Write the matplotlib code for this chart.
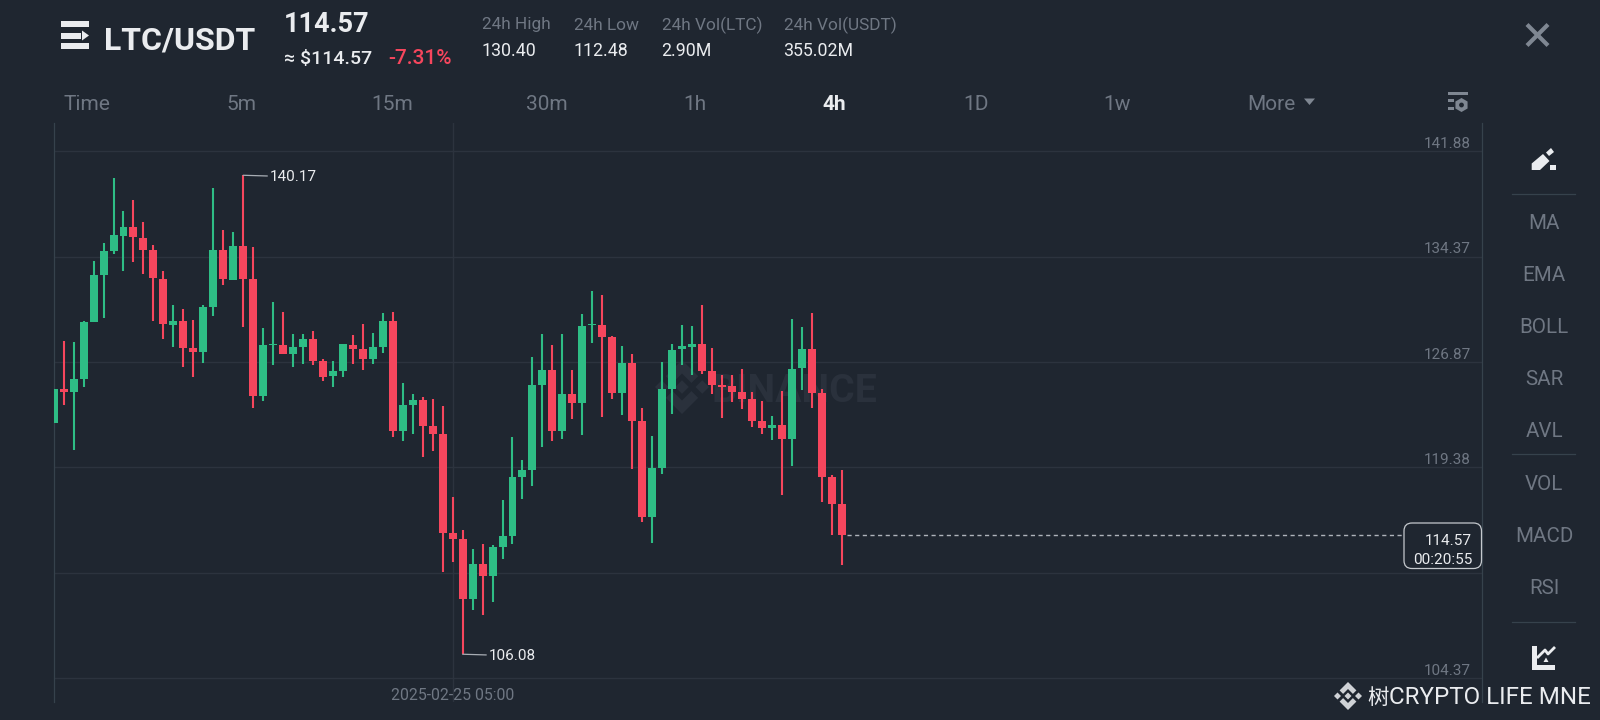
import matplotlib
matplotlib.use("Agg")
import matplotlib.pyplot as plt
from matplotlib.patches import FancyBboxPatch, Polygon, Rectangle, Circle, RegularPolygon
import numpy as np

plt.rcParams['font.family'] = ['Roboto', 'Noto Sans CJK SC', 'DejaVu Sans']

# candles
opens = [122.54, 124.96, 124.77, 125.65, 129.70, 133.07, 134.76, 135.87, 136.49, 135.73,
         134.83, 132.81, 129.51, 129.82, 127.85, 127.62, 130.77, 134.83, 132.74, 135.11,
         132.79, 124.46, 128.07, 128.09, 127.45, 127.95, 128.49, 126.95, 125.86, 126.22,
         128.12, 127.81, 127.09, 127.92, 129.80, 121.97, 123.85, 124.18, 122.35, 121.76,
         114.71, 114.26, 109.99, 112.51, 111.68, 113.72, 114.48, 118.70, 119.17, 125.25,
         126.31, 121.95, 124.63, 123.99, 129.49, 129.49, 128.66, 124.65, 126.81, 122.68,
         115.85, 119.36, 124.96, 127.79, 127.97, 128.16, 126.22, 125.22, 125.15, 124.72,
         124.25, 122.71, 122.21, 122.42, 121.40, 126.46, 127.83, 124.68, 118.67, 116.78]
highs = [124.96, 128.40, 128.30, 129.80, 134.07, 135.37, 139.95, 137.65, 138.41, 136.82,
         135.18, 133.36, 130.91, 130.68, 129.85, 130.91, 139.29, 136.25, 136.16, 140.17,
         135.04, 129.32, 131.13, 130.46, 128.87, 128.87, 129.11, 127.07, 126.93, 128.14,
         128.80, 129.59, 128.94, 130.39, 130.42, 125.37, 124.61, 124.37, 124.25, 123.75,
         117.25, 114.93, 113.55, 113.93, 113.86, 117.04, 121.55, 119.88, 127.26, 128.88,
         128.09, 128.85, 126.31, 130.30, 131.94, 131.68, 128.73, 128.05, 127.43, 123.61,
         121.64, 126.86, 128.16, 129.54, 129.42, 130.94, 127.86, 125.93, 125.96, 126.36,
         124.77, 124.08, 123.02, 124.82, 129.94, 129.35, 130.37, 124.96, 118.82, 119.20]
lows = [122.54, 123.80, 120.64, 125.13, 129.70, 130.04, 134.59, 133.38, 134.00, 133.17,
        129.80, 128.54, 127.92, 126.55, 125.81, 126.79, 130.18, 132.34, 132.74, 129.40,
        123.61, 124.13, 126.69, 127.45, 126.50, 126.76, 126.67, 125.55, 125.13, 125.84,
        126.71, 126.29, 126.74, 127.55, 121.52, 121.26, 121.78, 120.12, 120.55, 111.94,
        112.62, 106.08, 109.23, 108.88, 109.83, 112.89, 113.91, 117.13, 118.06, 120.86,
        121.28, 121.43, 122.83, 121.69, 128.21, 122.97, 124.23, 123.11, 119.27, 115.52,
        114.00, 118.94, 123.21, 126.69, 125.96, 126.05, 124.63, 122.90, 124.06, 123.54,
        122.26, 121.74, 121.36, 117.42, 119.51, 124.91, 123.63, 116.92, 114.55, 112.43]
closes = [124.96, 124.77, 125.65, 129.73, 133.07, 134.76, 135.90, 136.49, 135.75, 134.85,
          132.84, 129.56, 129.80, 127.85, 127.62, 130.77, 134.83, 132.76, 135.11, 132.81,
          124.46, 128.07, 128.19, 127.45, 127.92, 128.49, 126.95, 125.84, 126.22, 128.14,
          127.81, 127.09, 127.92, 129.80, 121.97, 123.85, 124.20, 122.35, 121.78, 114.71,
          114.26, 109.99, 112.51, 111.68, 113.72, 114.48, 118.70, 119.17, 125.25, 126.31,
          121.95, 124.63, 123.99, 129.47, 129.61, 128.69, 124.65, 126.81, 122.71, 115.85,
          119.36, 124.96, 127.76, 128.00, 128.19, 126.24, 125.25, 125.13, 124.75, 124.27,
          122.71, 122.21, 122.42, 121.40, 126.41, 127.83, 124.70, 118.67, 116.80, 114.57]

price_ticks = [141.88, 134.37, 126.87, 119.38, 111.88, 104.37]
last_price = 114.57
countdown = "00:20:55"
date_label = "2025-02-25 05:00"
date_idx = 40

tabs = ["Time", "5m", "15m", "30m", "1h", "4h", "1D", "1w", "More"]
tab_x = [86.7, 241.8, 391.8, 547, 695, 834.7, 976.5, 1117, 1271]
stat_names = ["24h High", "24h Low", "24h Vol(LTC)", "24h Vol(USDT)"]
stat_values = ["130.40", "112.48", "2.90M", "355.02M"]
stat_x = [481.5, 573.5, 661.5, 783.5]
side_labels = ["MA", "EMA", "BOLL", "SAR", "AVL", "VOL", "MACD", "RSI"]
side_y = [221.4, 273.5, 325.5, 377.5, 429.6, 482.6, 534.7, 586.7]

BG = "#1f2630"
GREEN = "#2ebd85"
RED = "#f6465d"
GRID = "#2c333e"
AXIS = "#36424c"
GRAY = "#6f7783"
ICON = "#7f8792"
WHITE = "#eaecef"
MID = "center_baseline"

W, H = 1600, 720
fig = plt.figure(figsize=(16, 7.2), dpi=100, facecolor=BG)


def pixel_axes(z):
    a = fig.add_axes([0, 0, 1, 1], zorder=z)
    a.set_xlim(0, W)
    a.set_ylim(H, 0)
    a.axis("off")
    a.patch.set_alpha(0)
    return a


def binance_logo(a, cx, cy, r, color, z=1):
    chevron = [(0, 1), (.6, .4), (.35, .15), (0, .5), (-.35, .15), (-.6, .4)]
    a.add_patch(Polygon([(cx + r * x, cy - r * y) for x, y in chevron], color=color, lw=0, zorder=z))
    a.add_patch(Polygon([(cx + r * x, cy + r * y) for x, y in chevron], color=color, lw=0, zorder=z))
    for dx in (-.75, 0, .75):
        d = .25
        a.add_patch(Polygon([(cx + r * (dx - d), cy), (cx + r * dx, cy - r * d),
                             (cx + r * (dx + d), cy), (cx + r * dx, cy + r * d)],
                            color=color, lw=0, zorder=z))


# watermark sits under the candles
bg = pixel_axes(0)
binance_logo(bg, 682, 387, 27, "#2a313c")
bg.text(712, 388, "BINANCE", color="#2a313c", fontsize=28.2, fontweight="bold", va=MID, ha="left")

# chart area, 54..1482 px wide and 123..702 px high
ax = fig.add_axes([54 / W, 1 - 702 / H, (1482 - 54) / W, (702 - 123) / H], zorder=1)
ax.patch.set_alpha(0)
ax.set_xlim(0.033, 143.2)
ax.set_ylim(102.68, 143.89)
ax.set_xticks([])
ax.set_yticks([])
for side in ["top", "bottom"]:
    ax.spines[side].set_visible(False)
for side in ["left", "right"]:
    ax.spines[side].set_color(AXIS)
    ax.spines[side].set_linewidth(0.9)

for p in price_ticks:
    ax.axhline(p, color=GRID, lw=1.0, zorder=1)
    ax.annotate(f"{p:.2f}", xy=(1, p), xycoords=("axes fraction", "data"), xytext=(-8, 6.5),
                textcoords="offset points", ha="right", va=MID, color=GRAY, fontsize=11)
ax.axvline(date_idx, color=GRID, lw=1.0, zorder=1)
ax.annotate(date_label, xy=(date_idx, 0), xycoords=("data", "axes fraction"), xytext=(0, 6),
            textcoords="offset points", ha="center", va=MID, color=GRAY, fontsize=11.4)

idx = np.arange(len(opens))
o = np.array(opens)
c = np.array(closes)
colors = [GREEN if cl >= op else RED for op, cl in zip(o, c)]
ax.vlines(idx, lows, highs, colors=colors, lw=1.5, zorder=2)
ax.bar(idx, np.abs(c - o), bottom=np.minimum(o, c), width=0.8, color=colors, zorder=3)

# high / low leaders
hi = int(np.argmax(highs))
lo = int(np.argmin(lows))
ax.annotate(f"{highs[hi]:.2f}", xy=(hi, highs[hi]), xytext=(hi + 2.7, highs[hi]), color=WHITE,
            fontsize=11, va=MID, ha="left",
            arrowprops=dict(arrowstyle="-", color="#a8adb4", lw=0.9, shrinkA=0, shrinkB=0))
ax.annotate(f"{lows[lo]:.2f}", xy=(lo, lows[lo]), xytext=(lo + 2.65, lows[lo]), color=WHITE,
            fontsize=11, va=MID, ha="left",
            arrowprops=dict(arrowstyle="-", color="#a8adb4", lw=0.9, shrinkA=0, shrinkB=0))

ax.plot([len(opens) - 0.5, 135.3], [last_price, last_price], color="#aeb3ba", lw=1.0,
        dashes=(3, 2.5), zorder=2)

# everything on top, in pixel coordinates
top = pixel_axes(2)

top.add_patch(FancyBboxPatch((1404, 523), 77.5, 45.5, boxstyle="round,pad=0,rounding_size=8",
                             fc=BG, ec="#c4c8cd", lw=0.9))
top.text(1471.5, 539.5, f"{last_price:.2f}", color=WHITE, fontsize=11, ha="right", va=MID)
top.text(1472, 558, countdown, color=WHITE, fontsize=11, ha="right", va=MID)

# header
for y0, y1 in [(21, 27), (43, 49)]:
    top.add_patch(Rectangle((61, y0), 28, y1 - y0, color=WHITE, lw=0))
top.add_patch(Rectangle((61, 33), 20, 5.5, color=WHITE, lw=0))
top.add_patch(Polygon([(82, 30.5), (89, 35.5), (82, 40.5)], color=WHITE, lw=0))
top.text(103.5, 37, "LTC/USDT", color=WHITE, fontsize=23, fontweight="bold", va=MID, ha="left")
top.text(284, 21.5, "114.57", color=WHITE, fontsize=19.5, fontweight="bold", va=MID, ha="left")
top.text(284, 57, "≈ $114.57", color=WHITE, fontsize=14, fontweight="medium", va=MID, ha="left")
top.text(388, 57, "-7.31%", color=RED, fontsize=15, fontweight="medium", va=MID, ha="left")
for name, val, x in zip(stat_names, stat_values, stat_x):
    top.text(x, 23.5, name, color=GRAY, fontsize=12.4, va=MID, ha="left")
    top.text(x, 49.5, val, color=WHITE, fontsize=12.8, va=MID, ha="left")

# time frame row
for name, x in zip(tabs, tab_x):
    if name == "4h":
        top.text(x, 103, name, color=WHITE, fontsize=15, fontweight="bold", va=MID, ha="center")
    else:
        top.text(x, 103, name, color=GRAY, fontsize=15, va=MID, ha="center")
top.add_patch(Polygon([(1304, 98.5), (1315, 98.5), (1309.5, 105)], color=ICON, lw=0))

# settings icon
top.add_patch(Rectangle((1448, 92), 20, 3, color=ICON, lw=0))
top.add_patch(Rectangle((1448, 99), 6, 2.5, color=ICON, lw=0))
top.add_patch(Rectangle((1448, 107), 6, 3, color=ICON, lw=0))
top.add_patch(RegularPolygon((1461.5, 105), 6, radius=7, color=ICON, lw=0))
top.add_patch(Circle((1461.5, 105), 2.4, color=BG, lw=0))

# close cross
top.plot([1527, 1548], [24.5, 45.5], color=ICON, lw=3, solid_capstyle="butt")
top.plot([1527, 1548], [45.5, 24.5], color=ICON, lw=3, solid_capstyle="butt")

# right panel
for name, y in zip(side_labels, side_y):
    top.text(1544, y, name, color=GRAY, fontsize=14.8, ha="center", va=MID)
for y in [193.5, 454, 622.3]:
    top.plot([1512, 1575], [y, y], color=AXIS, lw=0.9)

# pencil
top.add_patch(Polygon([(1531.7, 170), (1531.7, 163.5), (1543, 154), (1549.5, 161), (1540, 170)], color=WHITE, lw=0))
top.add_patch(Polygon([(1546, 152.5), (1551, 148), (1554, 152), (1549, 156)], color=WHITE, lw=0))
top.add_patch(Rectangle((1550, 165), 5.5, 5, color=WHITE, lw=0))

# chart icon
top.add_patch(Rectangle((1531.7, 646), 5, 24, color=WHITE, lw=0))
top.add_patch(Rectangle((1531.7, 665), 23.5, 5, color=WHITE, lw=0))
top.plot([1537, 1545, 1548, 1555], [658, 650, 654, 647], color=WHITE, lw=2, solid_capstyle="butt")
top.add_patch(Polygon([(1543.5, 662), (1548.5, 662), (1546, 657.5)], color=WHITE, lw=0))

# overlay watermark, bottom right
binance_logo(top, 1348, 696, 14, "#cfd2d6")
top.text(1367, 695.5, "树", color=WHITE, fontsize=15.5, va=MID, ha="left")
top.text(1389, 695, "CRYPTO LIFE MNE", color=WHITE, fontsize=17.4, va=MID, ha="left")

fig.savefig("out.png", dpi=100, facecolor=BG)
